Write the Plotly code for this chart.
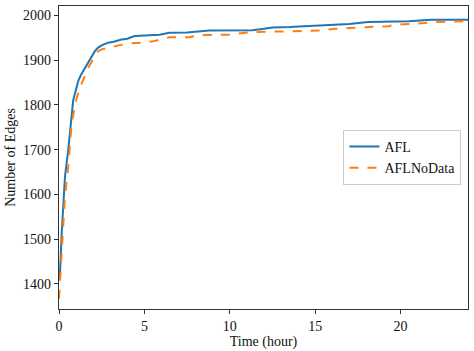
import plotly.graph_objects as go

afl_t = [0, 0.06, 0.16, 0.35, 0.54, 0.74, 0.83, 1.0, 1.13, 1.3, 1.52, 1.7, 1.9, 2.1, 2.29, 2.5, 2.87, 3.2, 3.66, 4.0, 4.43, 5.0, 5.89, 6.47, 7.5, 8.8, 10, 11.33, 12.0, 12.5, 13.5, 15.2, 16.2, 17.0, 18.1, 19.5, 20.5, 21.8, 24]
afl_v = [1412, 1426, 1515, 1640, 1699, 1780, 1810, 1835, 1854, 1868, 1883, 1893, 1909, 1920, 1928, 1933, 1939, 1941, 1946, 1948, 1954, 1955, 1957, 1961, 1962, 1966, 1966, 1967, 1970, 1973, 1974, 1977, 1979, 1981, 1985, 1986, 1987, 1990, 1990]

nodata_t = [0, 0.05, 0.16, 0.35, 0.54, 0.74, 1.0, 1.22, 1.5, 1.71, 2.0, 2.29, 2.5, 2.87, 3.5, 4.04, 4.82, 5.5, 6.18, 6.47, 7.64, 8.2, 10, 11.33, 13, 15.2, 16.2, 17, 19.3, 19.7, 21.4, 21.8, 24]
nodata_v = [1367, 1400, 1485, 1596, 1662, 1758, 1810, 1839, 1863, 1883, 1902, 1920, 1924, 1928, 1933, 1937, 1939, 1942, 1948, 1951, 1951, 1956, 1957, 1963, 1964, 1966, 1970, 1972, 1976, 1979, 1983, 1985, 1987]

x_ticks = [0, 5, 10, 15, 20]
y_ticks = [1400, 1500, 1600, 1700, 1800, 1900, 2000]

FONT = "Liberation Serif, Times New Roman, serif"

fig = go.Figure()
fig.add_trace(go.Scatter(x=afl_t, y=afl_v, mode="lines", name="AFL",
                         line=dict(color="#1f77b4", width=2)))
fig.add_trace(go.Scatter(x=nodata_t, y=nodata_v, mode="lines", name="AFLNoData",
                         line=dict(color="#ff7f0e", width=2, dash="dash")))

axis_common = dict(showgrid=False, zeroline=False, showline=True, mirror=True,
                   linecolor="#333333", linewidth=1.2, ticks="outside", ticklen=4,
                   tickcolor="#333333", tickfont=dict(family=FONT, size=14, color="#111111"))

fig.update_layout(
    width=474, height=351,
    margin=dict(l=59, r=5, t=5, b=40),
    paper_bgcolor="white", plot_bgcolor="white",
    font=dict(family=FONT, size=14, color="#111111"),
    xaxis=dict(range=[0, 23.95], tickvals=x_ticks,
               title=dict(text="Time (hour)", font=dict(family=FONT, size=14), standoff=2),
               **axis_common),
    yaxis=dict(range=[1344, 2021], tickvals=y_ticks,
               title=dict(text="Number of Edges", font=dict(family=FONT, size=14), standoff=4),
               **axis_common),
    legend=dict(x=0.984, y=0.5, xanchor="right", yanchor="middle",
                bgcolor="rgba(255,255,255,0.8)", bordercolor="#cccccc", borderwidth=1,
                font=dict(family=FONT, size=14)),
    showlegend=True,
)

fig.write_html("out.html")
